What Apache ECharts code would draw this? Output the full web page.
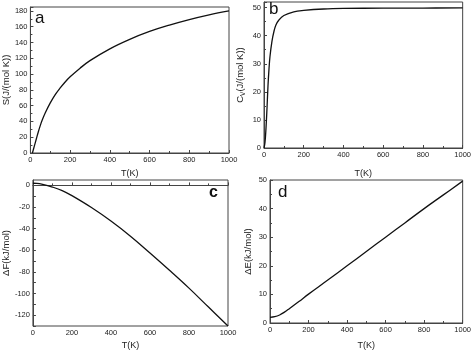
<!DOCTYPE html>
<html>
<head>
<meta charset="utf-8">
<script src="https://cdn.jsdelivr.net/npm/echarts@6/dist/echarts.min.js"></script>
<style>
  html, body { margin: 0; padding: 0; background: #fff; }
  #chart { width: 474px; height: 351px; }
</style>
</head>
<body>
<div id="chart"></div>
<script>
// panel a: entropy S (J/(mol K))
var tS = [10, 20, 30, 40, 50, 60, 75, 100, 125, 150, 175, 200, 250, 300, 400, 500, 600, 700, 800, 900, 1000];
var valS = [0, 9, 18, 27, 35, 42, 51, 63.5, 74, 82.5, 90, 96.5, 107.5, 117, 132, 144, 154, 162, 169, 175, 180];
// panel b: heat capacity Cv (J/(mol K))
var tCv = [0, 5, 10, 15, 20, 25, 30, 40, 50, 60, 75, 100, 150, 200, 300, 400, 600, 800, 1000];
var valCv = [0, 2, 7, 14, 22, 28, 32.5, 38, 41.5, 43.8, 45.6, 47.2, 48.5, 49, 49.5, 49.7, 49.8, 49.85, 49.9];
// panel c: free energy dF (kJ/mol)
var tF = [0, 20, 50, 100, 150, 200, 300, 400, 500, 600, 700, 800, 900, 1000];
var valF = [2, 1.9, 1.0, -1.5, -4.8, -9.5, -20.5, -33, -47, -62.5, -78.5, -95, -112.5, -130];
// panel d: energy dE (kJ/mol)
var tE = [0, 25, 50, 75, 100, 150, 200, 300, 400, 500, 600, 700, 800, 900, 1000];
var valE = [2, 2.2, 2.8, 3.8, 5.0, 7.5, 10.1, 15, 20, 25, 30, 35, 40, 44.8, 49.6];

var fLabels = [-120, -100, -80, -60, -40, -20, 0];
var fTicks = [-130, -120, -110, -100, -90, -80, -70, -60, -50, -40, -30, -20, -10, 0];

function zip(xs, ys) {
    return xs.map(function (x, i) { return [x, ys[i]]; });
}

var font = "'Liberation Sans', Arial, sans-serif";
var axisColor = '#444';
var plain = function (v) { return String(v); };

function xAxisOpt(idx, gap) {
    return {
        type: 'value', gridIndex: idx, min: 0, max: 1000, interval: 200,
        name: 'T(K)', nameLocation: 'middle', nameGap: gap,
        nameTextStyle: { fontSize: 9, color: '#222', fontFamily: font },
        axisLine: { lineStyle: { color: axisColor } },
        axisTick: { inside: true, length: 3, lineStyle: { color: axisColor } },
        minorTick: { show: true, splitNumber: 2, length: 2, lineStyle: { color: axisColor } },
        axisLabel: { fontSize: 7.5, color: '#222', margin: 3, fontFamily: font, formatter: plain },
        splitLine: { show: false }
    };
}

function yAxisOpt(idx, name, gap, extra) {
    var o = {
        type: 'value', gridIndex: idx,
        name: name, nameLocation: 'middle', nameGap: gap, nameRotate: 90,
        nameTextStyle: { fontSize: 9.5, color: '#222', fontFamily: font },
        axisLine: { lineStyle: { color: axisColor } },
        axisTick: { inside: true, length: 3, lineStyle: { color: axisColor } },
        minorTick: { show: true, splitNumber: 2, length: 2, lineStyle: { color: axisColor } },
        axisLabel: { fontSize: 7.5, color: '#222', margin: 3, fontFamily: font, showMaxLabel: false, formatter: plain },
        splitLine: { show: false }
    };
    for (var k in extra) {
        if (k === 'axisLabel' || k === 'axisTick' || k === 'minorTick' || k === 'nameTextStyle') {
            Object.assign(o[k], extra[k]);
        } else {
            o[k] = extra[k];
        }
    }
    return o;
}

function lineSeries(idx, data) {
    return {
        type: 'line', xAxisIndex: idx, yAxisIndex: idx, data: data,
        showSymbol: false, smooth: 0.4,
        lineStyle: { color: '#111', width: 1.3 }
    };
}

var gridBase = { show: true, borderColor: axisColor, borderWidth: 1, containLabel: false };

var option = {
    animation: false,
    backgroundColor: '#fff',
    grid: [
        Object.assign({ left: 29, top: 7, width: 200, height: 146 }, gridBase),
        Object.assign({ left: 264, top: 2, width: 201, height: 146 }, gridBase),
        Object.assign({ left: 25, top: 180, width: 203, height: 148 }, gridBase),
        Object.assign({ left: 270, top: 180, width: 195, height: 143 }, gridBase)
    ],
    xAxis: [xAxisOpt(0, 16), xAxisOpt(1, 21), xAxisOpt(2, 15), xAxisOpt(3, 18)],
    yAxis: [
        yAxisOpt(0, 'S(J/(mol K))', 17, { min: 0, max: 185, interval: 20 }),
        yAxisOpt(1, '{a|C}{s|V}{a|(J/(mol K))}', 17, {
            min: 0, max: 52, interval: 10,
            nameTextStyle: {
                rich: {
                    a: { fontSize: 9.5, color: '#222', fontFamily: font },
                    s: { fontSize: 6.5, color: '#222', fontFamily: font, verticalAlign: 'bottom', padding: [6, 0, 0, 0] }
                }
            }
        }),
        yAxisOpt(2, 'ΔF(kJ/mol)', 16, {
            min: -130, max: 5,
            axisLabel: { customValues: fLabels, showMaxLabel: true },
            axisTick: { customValues: fTicks },
            minorTick: { show: false }
        }),
        yAxisOpt(3, 'ΔE(kJ/mol)', 17, { min: 0, max: 50, interval: 10, axisLabel: { showMaxLabel: true } })
    ],
    graphic: [
        { type: 'text', left: 35, top: 9.5, style: { text: 'a', fontSize: 17, fill: '#111', fontFamily: font } },
        { type: 'text', left: 269, top: 1, style: { text: 'b', fontSize: 17, fill: '#111', fontFamily: font } },
        { type: 'text', left: 209, top: 185, style: { text: 'c', fontSize: 16, fill: '#111', fontFamily: font, fontWeight: 'bold' } },
        { type: 'text', left: 278, top: 184, style: { text: 'd', fontSize: 17, fill: '#111', fontFamily: font } }
    ],
    series: [
        lineSeries(0, zip(tS, valS)),
        lineSeries(1, zip(tCv, valCv)),
        lineSeries(2, zip(tF, valF)),
        lineSeries(3, zip(tE, valE))
    ]
};

var chart = echarts.init(document.getElementById('chart'), null, { renderer: 'canvas' });
chart.setOption(option);
</script>
</body>
</html>
